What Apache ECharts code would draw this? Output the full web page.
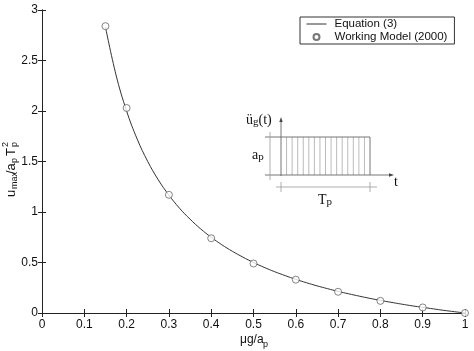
<!DOCTYPE html>
<html>
<head>
<meta charset="utf-8">
<script src="https://cdn.jsdelivr.net/npm/echarts@6/dist/echarts.min.js"></script>
<style>html,body{margin:0;padding:0;background:#fff;}#c{width:474px;height:351px;}</style>
</head>
<body>
<div id="c"></div>
<script>
// Data
const curveX = [0.15, 0.175, 0.2, 0.225, 0.25, 0.275, 0.3, 0.325, 0.35, 0.375, 0.4, 0.425, 0.45, 0.475, 0.5, 0.525, 0.55, 0.575, 0.6, 0.625, 0.65, 0.675, 0.7, 0.725, 0.75, 0.775, 0.8, 0.825, 0.85, 0.875, 0.9, 0.925, 0.95, 0.975, 1.0];
const curveY = [2.833, 2.357, 2.0, 1.722, 1.5, 1.318, 1.167, 1.038, 0.929, 0.833, 0.75, 0.676, 0.611, 0.553, 0.5, 0.452, 0.409, 0.370, 0.333, 0.3, 0.269, 0.241, 0.214, 0.190, 0.167, 0.145, 0.125, 0.106, 0.088, 0.071, 0.056, 0.041, 0.026, 0.013, 0.0];
const modelX = [0.15, 0.2, 0.3, 0.4, 0.5, 0.6, 0.7, 0.8, 0.9, 1.0];
const modelY = [2.84, 2.03, 1.17, 0.74, 0.49, 0.33, 0.21, 0.12, 0.055, 0.0];
const xTicks = [0, 0.1, 0.2, 0.3, 0.4, 0.5, 0.6, 0.7, 0.8, 0.9, 1];
const yTicks = [0, 0.5, 1, 1.5, 2, 2.5, 3];

const FONT = 'Liberation Sans';
const SERIF = 'Liberation Serif';
const AX = '#222';
const chart = echarts.init(document.getElementById('c'), null, {renderer: 'canvas'});

function fmt(v) { return String(Math.round(v * 10) / 10); }

const axisCommon = {
  axisLine: {show: true, lineStyle: {color: AX, width: 1}},
  axisTick: {show: true, inside: true, length: 4, lineStyle: {color: AX, width: 1}},
  splitLine: {show: false},
  axisLabel: {color: '#111', fontFamily: FONT, fontSize: 12}
};

// Inset diagram hatch lines
const hatch = [];
for (let i = 1; i < 16; i++) {
  const x = 281 + i * (89 / 16);
  hatch.push({type: 'line', shape: {x1: x, y1: 137, x2: x, y2: 175}, style: {stroke: '#aaa', lineWidth: 0.8}, silent: true});
}

const lineStyleInset = {stroke: '#666', lineWidth: 0.9};
const serifRich = {
  m: {font: '14px ' + SERIF, fill: '#111', verticalAlign: 'middle', lineHeight: 16},
  s: {font: '11px ' + SERIF, fill: '#111', verticalAlign: 'bottom', lineHeight: 16}
};

chart.setOption({
  animation: false,
  backgroundColor: '#fff',
  grid: {left: 42, right: 9, top: 10, bottom: 38, containLabel: false},
  xAxis: [
    Object.assign({}, axisCommon, {
      type: 'value', min: 0, max: 1, interval: 0.1, position: 'bottom',
      axisLabel: Object.assign({}, axisCommon.axisLabel, {margin: 6, formatter: fmt, customValues: xTicks})
    }),
    Object.assign({}, axisCommon, {
      type: 'value', min: 0, max: 1, interval: 0.1, position: 'top',
      axisLabel: {show: false}
    })
  ],
  yAxis: [
    Object.assign({}, axisCommon, {
      type: 'value', min: 0, max: 3, interval: 0.5, position: 'left',
      axisLabel: Object.assign({}, axisCommon.axisLabel, {margin: 4, formatter: fmt, customValues: yTicks})
    }),
    Object.assign({}, axisCommon, {
      type: 'value', min: 0, max: 3, interval: 0.5, position: 'right',
      axisLabel: {show: false}
    })
  ],
  legend: {
    left: 300, top: 17,
    orient: 'vertical',
    itemWidth: 20, itemHeight: 6, itemGap: 1,
    padding: [1, 7, 1, 6],
    borderColor: '#333', borderWidth: 1,
    backgroundColor: '#fff',
    textStyle: {fontFamily: FONT, fontSize: 11.5, color: '#111', padding: [0, 0, 0, 3]},
    data: [
      {name: 'Equation (3)', itemStyle: {opacity: 0}, lineStyle: {color: '#333', width: 1, opacity: 1}},
      {name: 'Working Model (2000)'}
    ]
  },
  series: [
    {
      name: 'Equation (3)', type: 'line', smooth: 0.4,
      symbol: 'none', lineStyle: {color: '#333', width: 1},
      itemStyle: {color: '#333'},
      data: curveX.map((x, i) => [x, curveY[i]]),
      z: 2
    },
    {
      name: 'Working Model (2000)', type: 'scatter',
      symbol: 'circle', symbolSize: 7,
      itemStyle: {color: '#fff', borderColor: '#555', borderWidth: 0.9},
      data: modelX.map((x, i) => [x, modelY[i]]),
      z: 3
    }
  ],
  graphic: [
    // Y-axis title
    {
      type: 'group', x: 11, y: 197, rotation: Math.PI / 2, silent: true,
      children: [
        {type: 'text', x: 0, y: 0, style: {text: 'u', font: '13px ' + FONT, fill: '#111', verticalAlign: 'middle'}},
        {type: 'text', x: 8, y: 3.5, style: {text: 'max', font: '9px ' + FONT, fill: '#111', verticalAlign: 'middle'}},
        {type: 'text', x: 23, y: 0, style: {text: '/a', font: '13px ' + FONT, fill: '#111', verticalAlign: 'middle'}},
        {type: 'text', x: 34, y: 3.5, style: {text: 'p', font: '9px ' + FONT, fill: '#111', verticalAlign: 'middle'}},
        {type: 'text', x: 41, y: 0, style: {text: 'T', font: '13px ' + FONT, fill: '#111', verticalAlign: 'middle'}},
        {type: 'text', x: 50, y: -5, style: {text: '2', font: '9px ' + FONT, fill: '#111', verticalAlign: 'middle'}},
        {type: 'text', x: 50, y: 3.5, style: {text: 'p', font: '9px ' + FONT, fill: '#111', verticalAlign: 'middle'}}
      ]
    },
    // X-axis title
    {type: 'text', x: 240, y: 340, silent: true, style: {text: 'μg/a', font: '12px ' + FONT, fill: '#111', verticalAlign: 'middle'}},
    {type: 'text', x: 263, y: 345, silent: true, style: {text: 'p', font: '9px ' + FONT, fill: '#111', verticalAlign: 'middle'}},
    // Inset diagram
    {
      type: 'group', silent: true,
      children: hatch.concat([
        {type: 'line', shape: {x1: 281, y1: 176, x2: 281, y2: 121}, style: lineStyleInset},
        {type: 'polygon', shape: {points: [[281, 117], [279.3, 122], [282.7, 122]]}, style: {fill: '#444'}},
        {type: 'line', shape: {x1: 265, y1: 175, x2: 389, y2: 175}, style: lineStyleInset},
        {type: 'polygon', shape: {points: [[394, 175], [389, 173.3], [389, 176.7]]}, style: {fill: '#444'}},
        {type: 'line', shape: {x1: 265, y1: 137, x2: 370, y2: 137}, style: lineStyleInset},
        {type: 'line', shape: {x1: 370, y1: 137, x2: 370, y2: 175}, style: lineStyleInset},
        {type: 'line', shape: {x1: 270, y1: 132, x2: 270, y2: 180}, style: {stroke: '#999', lineWidth: 0.8}},
        {type: 'line', shape: {x1: 276, y1: 187, x2: 377, y2: 187}, style: {stroke: '#999', lineWidth: 0.8}},
        {type: 'line', shape: {x1: 281, y1: 182, x2: 281, y2: 192}, style: {stroke: '#999', lineWidth: 0.8}},
        {type: 'line', shape: {x1: 370, y1: 182, x2: 370, y2: 192}, style: {stroke: '#999', lineWidth: 0.8}},
        {type: 'text', x: 246, y: 120, style: {text: '{m|ü}{s|g}{m|(t)}', verticalAlign: 'middle', rich: serifRich}},
        {type: 'text', x: 252, y: 155, style: {text: '{m|a}{s|p}', verticalAlign: 'middle', rich: serifRich}},
        {type: 'text', x: 318, y: 200, style: {text: '{m|T}{s|p}', verticalAlign: 'middle', rich: serifRich}},
        {type: 'text', x: 394, y: 182, style: {text: 't', font: '14px ' + SERIF, fill: '#111', verticalAlign: 'middle'}}
      ])
    }
  ]
});
</script>
</body>
</html>
